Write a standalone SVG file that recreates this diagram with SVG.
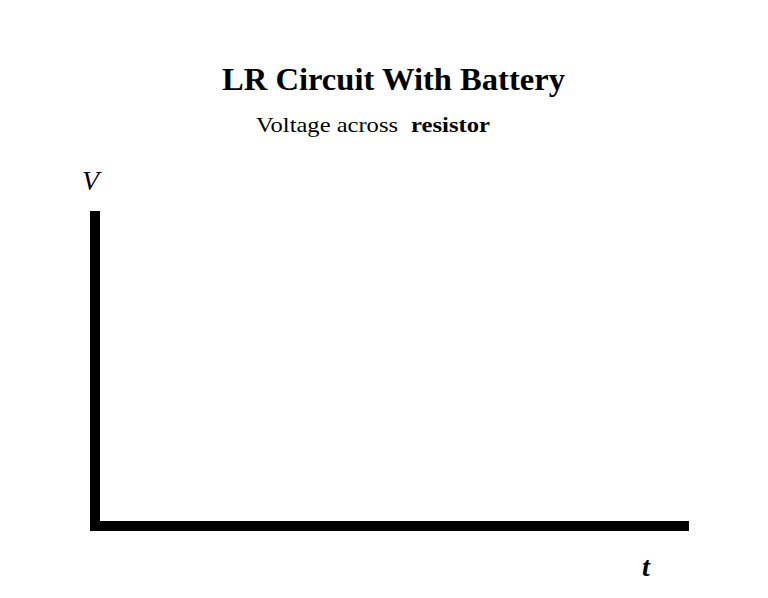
<svg xmlns="http://www.w3.org/2000/svg" width="768" height="598" viewBox="0 0 768 598">
<style>text{font-family:"Liberation Serif",serif;fill:#000}</style>
<rect width="768" height="598" fill="#fff"/>
<text x="222" y="90" font-size="31" font-weight="bold" textLength="343" lengthAdjust="spacingAndGlyphs">LR Circuit With Battery</text>
<text x="256" y="132" font-size="22" textLength="142" lengthAdjust="spacingAndGlyphs">Voltage across</text>
<text x="411" y="132" font-size="21" font-weight="bold" textLength="79" lengthAdjust="spacingAndGlyphs">resistor</text>
<text x="82" y="190" font-size="28" font-style="italic">V</text>
<text x="642" y="576" font-size="28" font-style="italic" font-weight="bold">t</text>
<g id="axes" fill="#000">
<rect x="90" y="211" width="10" height="320"/>
<rect x="90" y="521" width="599" height="10"/>
</g>
</svg>
